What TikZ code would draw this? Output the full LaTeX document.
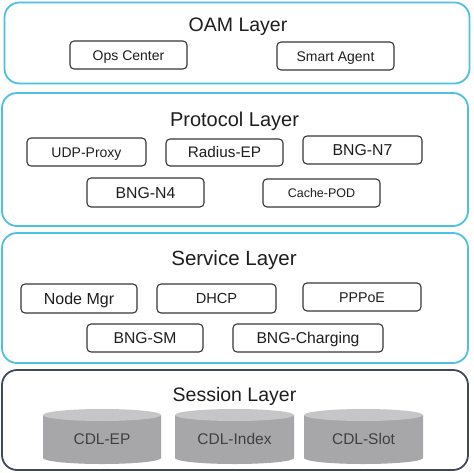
\documentclass[tikz,border=0pt]{standalone}
\usepackage{fontspec}
\setmainfont{Liberation Sans}
\definecolor{cyanline}{RGB}{78,192,226}
\definecolor{navyline}{RGB}{62,72,92}
\definecolor{boxline}{RGB}{55,55,55}
\definecolor{txt}{RGB}{30,30,30}
\definecolor{cylbody}{RGB}{167,167,170}
\definecolor{cyltop}{RGB}{198,198,201}
\tikzset{
  fs/.style={font=\fontsize{#1}{20}\selectfont, text height={0.716*#1pt}, text depth=0pt},
  layer/.style={draw=cyanline, line width=1.8pt, rounded corners=15pt, inner sep=0pt},
  sesslayer/.style={layer, draw=navyline},
  title/.style={text=txt, inner sep=0pt},
  comp/.style={draw=boxline, line width=1.1pt, rounded corners=4pt, text=txt,
    inner sep=0pt, minimum height=28pt, minimum width=117pt},
  cyltext/.style={text=txt!85, inner sep=0pt, fs=15.5}
}
\begin{document}
\begin{tikzpicture}[x=1pt,y=1pt]
\useasboundingbox (0,0) rectangle (474,-472);
\fill[white] (0,0) rectangle (474,-472);
% layers
\node[layer, minimum width=465pt, minimum height=81pt] (oam) at (237,-43) {};
\node[layer, minimum width=466pt, minimum height=133pt] (proto) at (235,-159.5) {};
\node[layer, minimum width=466pt, minimum height=130pt] (serv) at (235,-298) {};
\node[sesslayer, minimum width=466pt, minimum height=100pt] (sess) at (235,-420) {};
% titles
\node[title, fs=19.5] (oamt) at (238,-24.5) {OAM Layer};
\node[title, fs=20] (protot) at (234.5,-119.5) {Protocol Layer};
\node[title, fs=20.5] (servt) at (234,-258.5) {Service Layer};
\node[title, fs=19.5] (sesst) at (234.5,-394.5) {Session Layer};
% OAM
\node[comp, fs=14] (ops) at (128.5,-55) {Ops Center};
\node[comp, fs=14] (smart) at (335.5,-56) {Smart Agent};
% Protocol
\node[comp, minimum width=119pt, fs=14] (udp) at (86.5,-152) {UDP-Proxy};
\node[comp, minimum height=27pt, fs=15.3] (rad) at (224.5,-152.5) {Radius-EP};
\node[comp, minimum width=119pt, fs=15.8] (n7) at (362.5,-150) {BNG-N7};
\node[comp, minimum height=29pt, fs=15.8] (n4) at (145.5,-192.5) {BNG-N4};
\node[comp, fs=12.5] (cache) at (321.5,-193) {Cache-POD};
% Service
\node[comp, minimum width=116pt, minimum height=29pt, fs=16] (nm) at (79,-298.5) {Node Mgr};
\node[comp, minimum width=119pt, minimum height=29pt, fs=14.6] (dhcp) at (216.5,-298.5) {DHCP};
\node[comp, minimum width=118pt, fs=14.2] (pppoe) at (362,-297) {PPPoE};
\node[comp, minimum width=116pt, fs=15.7] (sm) at (145,-338) {BNG-SM};
\node[comp, minimum width=150pt, fs=15.7] (chg) at (308,-338) {BNG-Charging};
% Session cylinders
\foreach \n/\xa/\xb/\t in {cdlep/43/161/CDL-EP, cdlidx/175/294/CDL-Index, cdlslot/304/423/CDL-Slot} {
  \pgfmathsetmacro\xc{(\xa+\xb)/2}
  \pgfmathsetmacro\rx{(\xb-\xa)/2}
  \fill[cylbody] (\xa,-415) -- (\xa,-458) arc[start angle=180, end angle=360, x radius=\rx, y radius=6] -- (\xb,-415) -- cycle;
  \fill[cyltop] (\xc,-415) ellipse[x radius=\rx, y radius=6];
  \node[cyltext] (\n) at (\xc,-439) {\t};
}
\end{tikzpicture}
\end{document}
